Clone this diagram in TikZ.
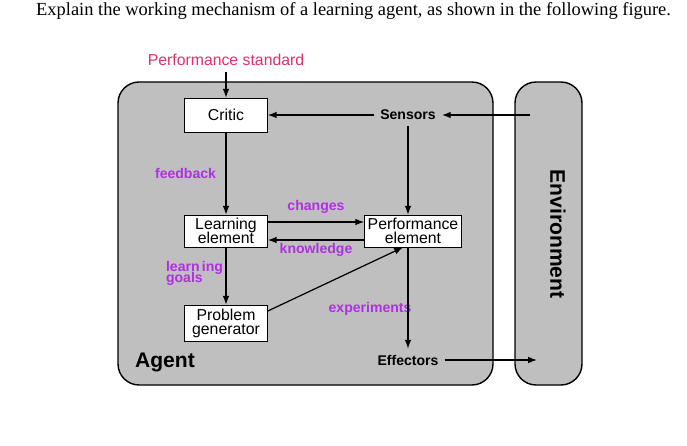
\documentclass[tikz,border=0pt]{standalone}
\usepackage{fontspec}
\setmainfont{Liberation Sans}
\newfontfamily\serif{Liberation Serif}
\usetikzlibrary{arrows.meta}
\definecolor{lbl}{HTML}{B030E0}
\definecolor{std}{HTML}{E0306A}
\begin{document}
\begin{tikzpicture}[x=0.02cm,y=-0.02cm]
	\tikzstyle{panel}=[draw,fill=black!25,rounded corners=12pt,line width=0.8pt]
	\tikzstyle{box}=[draw,fill=white,minimum width=1.66cm,minimum height=0.68cm,font=\small,align=center,inner sep=1pt]
	\tikzstyle{tag}=[text=lbl,font=\footnotesize\bfseries]
	\tikzstyle{flow}=[-{Latex[length=5pt]},line width=0.7pt]
	\useasboundingbox (0,0) rectangle (687,446);

	\node[anchor=west,font=\serif\fontsize{10.5}{12}\selectfont] (title) at (30,11) {Explain the working mechanism of a learning agent, as shown in the following figure.};
	\draw[panel] (118,82) rectangle (493,385);
	\draw[panel] (515,82) rectangle (582,385);
	\node[rotate=-90,font=\large\bfseries] (env) at (558,234) {Environment};
	\node[font=\large\bfseries] (agent) at (165,362) {Agent};

	\node[text=std,font=\small] (std) at (226,60) {Performance standard};
	\node[box] (critic) at (226,115) {Critic};
	\node[box,minimum height=0.64cm] (learn) at (226,231) {Learning\\[-3pt]element};
	\node[box,minimum width=1.94cm,minimum height=0.64cm] (perf) at (413,231) {Performance\\[-3pt]element};
	\node[box,minimum height=0.72cm] (gen) at (226,323) {Problem\\[-3pt]generator};
	\node[font=\footnotesize\bfseries] (sens) at (408,115) {Sensors};
	\node[font=\footnotesize\bfseries] (eff) at (408,360) {Effectors};
	\coordinate (envin) at (530,115);
	\coordinate (envout) at (537,360);

	\draw[flow] (std) -- (critic);
	\draw[flow] (envin) -- (sens);
	\draw[flow] (sens) -- (critic);
	\draw[flow] (sens) -- (sens |- perf.north);
	\draw[flow] (critic) -- (learn) node[tag,midway,left=2pt] {feedback};
	\draw[flow] ([yshift=0.18cm]learn.east) -- ([yshift=0.18cm]perf.west) node[tag,midway,above=1pt] {changes};
	\draw[flow] ([yshift=-0.18cm]perf.west) -- ([yshift=-0.18cm]learn.east) node[tag,midway,below=-2pt] {knowledge};
	\draw[flow] (learn) -- (gen) node[tag,pos=0.45,left=-2pt,align=left] {learn\,ing\\[-3pt]goals};
	\draw[flow] ([yshift=0.24cm]gen.east) -- ([xshift=-0.2cm]perf.south) node[tag,pos=0.35,below right=4pt] {experiments};
	\draw[flow] (perf.south -| eff) -- (eff);
	\draw[flow] (eff) -- (envout);
\end{tikzpicture}
\end{document}
